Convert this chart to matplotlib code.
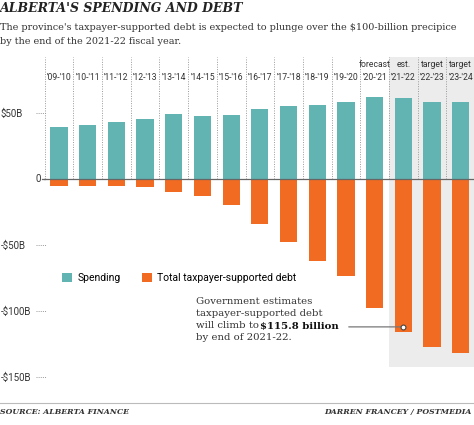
import matplotlib
matplotlib.use("Agg")
import matplotlib.pyplot as plt
from matplotlib.patches import Rectangle

years = ["'09-'10","'10-'11","'11-'12","'12-'13","'13-'14","'14-'15","'15-'16","'16-'17",
         "'17-'18","'18-'19","'19-'20","'20-'21","'21-'22","'22-'23","'23-'24"]
prefixes = ["","","","","","","","","","","","forecast","est.","target","target"]
spending = [39.4,41,43,45.5,49,48,48.7,52.8,55,55.8,58,62,61.6,58,58.5]
debt = [5,5.5,5.5,6,10,12.9,20,33.8,48,62,73.7,98,115.8,127,132]

teal = "#62b4b2"; orange = "#f26b22"
W, H = 474, 425
fig = plt.figure(figsize=(W/100, H/100), dpi=100)
def fy(py): return 1 - py/H
def fx(px): return px/W

ax = fig.add_axes([fx(44), fy(390), fx(474-44), fy(57)-fy(390)])
x = list(range(len(years)))
ax.set_xlim(-0.52, 14.46)
ax.set_ylim(-159.8, 92.4)
ax.add_patch(Rectangle((11.5, -142.5), 3.2, 235, facecolor="#ececec", zorder=0, lw=0))
ax.bar(x, spending, width=0.6, color=teal, zorder=2, label="Spending")
ax.bar(x, [-d for d in debt], width=0.6, color=orange, zorder=2, label="Total taxpayer-supported debt")
for i in range(len(years)):
    ax.plot([i-0.5, i-0.5], [0, 92.4], ls=(0, (1, 1.5)), color="#999999", lw=0.7, zorder=1)
    ax.text(i, 76.5, years[i], ha="center", va="center", fontsize=6.2, family="Roboto", color="#333333")
    if prefixes[i]:
        ax.text(i, 86.5, prefixes[i], ha="center", va="center", fontsize=6.2, family="Roboto", color="#333333")
ax.axhline(0, color="#666666", lw=0.9, zorder=3)
for s in ax.spines.values(): s.set_visible(False)
ax.set_xticks([])
ax.set_yticks([50, 0, -50, -100, -150])
ax.set_yticklabels(["$50B", "", "-$50B", "-$100B", "-$150B"], family="Roboto", fontsize=7, color="#333333")
for lbl in ax.get_yticklabels():
    lbl.set_horizontalalignment("left")
ax.tick_params(axis="y", length=0, pad=31)
ax.text(-0.62, 0, "0", ha="right", va="center", family="Roboto", fontsize=7, color="#333333", clip_on=False)
for v in [50, -50, -100, -150]:
    ax.plot([-0.8, -0.45], [v, v], ls=(0, (1, 1.2)), color="#999999", lw=0.7, clip_on=False)
ax.plot([-0.58, -0.5], [0, 0], color="#666666", lw=0.9, clip_on=False)
ax.legend(loc="upper left", bbox_to_anchor=(0.02, 0.38), frameon=False, ncol=2,
          prop={"family": "Roboto", "size": 7.5}, handlelength=1.0, handleheight=1.0, columnspacing=2.0, handletextpad=0.5)
ax.plot(12, -112, marker="o", ms=3.5, mfc="white", mec="#444444", mew=0.8, zorder=5)
ax.annotate("", xy=(12, -112), xytext=(10.0, -112), arrowprops=dict(arrowstyle="-", color="#777777", lw=0.9))

fig.text(fx(0), fy(9), "ALBERTA'S SPENDING AND DEBT", family="DejaVu Serif", style="italic", weight="bold",
         fontsize=9, va="center", color="#222222")
fig.text(fx(0), fy(27), "The province's taxpayer-supported debt is expected to plunge over the $100-billion precipice",
         family="DejaVu Serif", fontsize=6.9, va="center", color="#333333")
fig.text(fx(0), fy(42), "by the end of the 2021-22 fiscal year.", family="DejaVu Serif", fontsize=6.9, va="center", color="#333333")
fs = 7.3
fig.text(fx(196), fy(302), "Government estimates", family="DejaVu Serif", fontsize=fs, va="center", color="#333333")
fig.text(fx(196), fy(314), "taxpayer-supported debt", family="DejaVu Serif", fontsize=fs, va="center", color="#333333")
fig.text(fx(196), fy(326), "will climb to", family="DejaVu Serif", fontsize=fs, va="center", color="#333333")
fig.text(fx(260), fy(326), "$115.8 billion", family="DejaVu Serif", fontsize=fs, weight="bold", va="center", color="#111111")
fig.text(fx(196), fy(338), "by end of 2021-22.", family="DejaVu Serif", fontsize=fs, va="center", color="#333333")

fig.add_artist(plt.Line2D([0, 1], [fy(403), fy(403)], color="#bbbbbb", lw=0.8))
fig.text(fx(0), fy(412), "SOURCE: ALBERTA FINANCE", family="DejaVu Serif", style="italic", weight="bold",
         fontsize=5.6, va="center", color="#333333")
fig.text(fx(472), fy(412), "DARREN FRANCEY / POSTMEDIA", family="DejaVu Serif", style="italic", weight="bold",
         fontsize=5.6, va="center", ha="right", color="#333333")
fig.savefig("out.png", dpi=100)
